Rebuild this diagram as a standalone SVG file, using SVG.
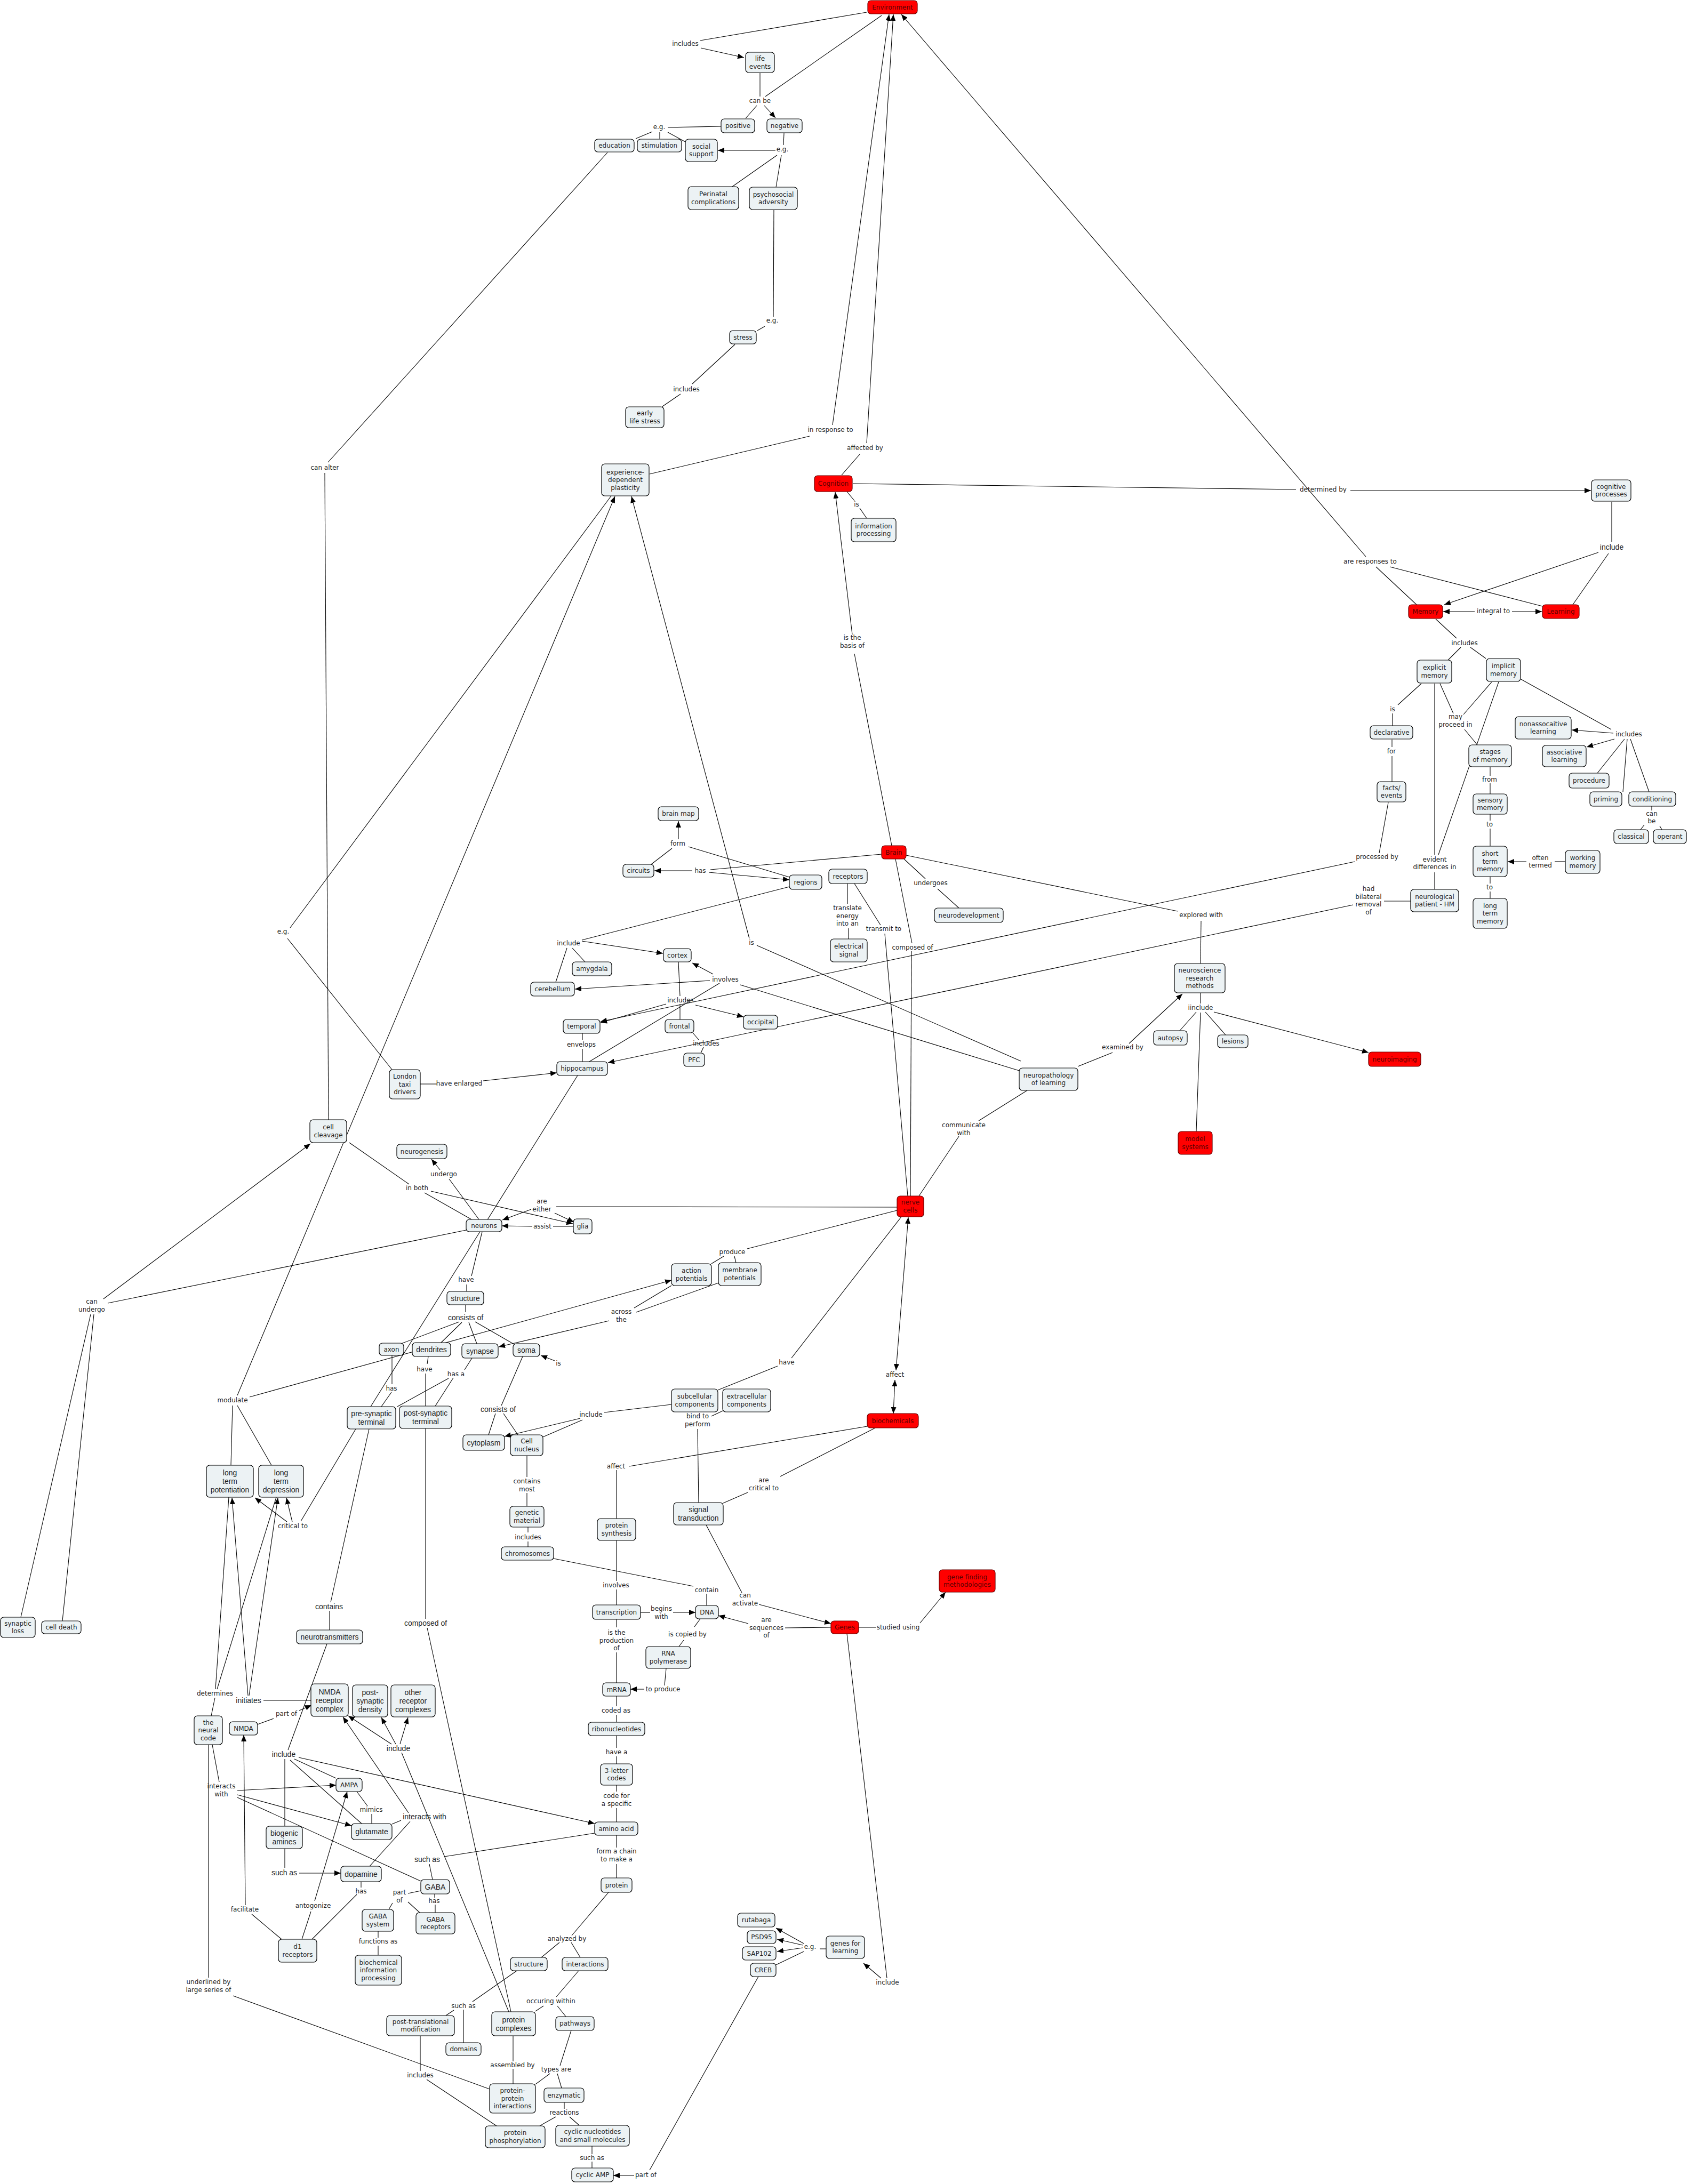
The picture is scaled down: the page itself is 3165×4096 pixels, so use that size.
<svg xmlns="http://www.w3.org/2000/svg" width="3165" height="4096" viewBox="0 0 3165 4096">
<style>
.n rect{fill:#ecf2f4;stroke:#000;stroke-width:1.2}
.r rect{fill:#ff0000;stroke:#6a0000;stroke-width:1.2}
text{font-family:"DejaVu Sans",Verdana,sans-serif;font-size:12px;fill:#1e1e1e;text-anchor:middle}
text.a{font-family:"Liberation Sans",Arial,sans-serif;font-size:14px}
.r text{fill:#5a0000}
#connectors line{stroke:#000;stroke-width:1.1;fill:none}
#connectors line.e{marker-end:url(#ah)}
#connectors line.b{marker-end:url(#ah);marker-start:url(#ahs)}
</style>
<defs>
<marker id="ah" viewBox="0 0 12 10" refX="12" refY="5" markerWidth="12" markerHeight="10" markerUnits="userSpaceOnUse" orient="auto"><path d="M0,0 L12,5 L0,10 z" fill="#000"/></marker>
<marker id="ahs" viewBox="0 0 12 10" refX="12" refY="5" markerWidth="12" markerHeight="10" markerUnits="userSpaceOnUse" orient="auto-start-reverse"><path d="M0,0 L12,5 L0,10 z" fill="#000"/></marker>
</defs>
<rect width="3165" height="4096" fill="#fff"/>
<g id="connectors">
<line x1="1625" y1="23" x2="1313" y2="76"/>
<line class="e" x1="1314" y1="90" x2="1395" y2="108"/>
<line x1="1653" y1="29" x2="1435" y2="181"/>
<line x1="1425" y1="137" x2="1425" y2="181"/>
<line x1="1419" y1="198" x2="1398" y2="222"/>
<line class="e" x1="1433" y1="198" x2="1454" y2="221"/>
<line x1="1352" y1="237" x2="1252" y2="239"/>
<line x1="1223" y1="247" x2="1192" y2="260"/>
<line x1="1237" y1="248" x2="1237" y2="260"/>
<line x1="1252" y1="248" x2="1285" y2="266"/>
<line x1="1470" y1="250" x2="1469" y2="272"/>
<line class="e" x1="1454" y1="282" x2="1346" y2="282"/>
<line x1="1457" y1="291" x2="1373" y2="350"/>
<line x1="1465" y1="291" x2="1455" y2="351"/>
<line x1="1451" y1="394" x2="1450" y2="594"/>
<line x1="1434" y1="612" x2="1420" y2="620"/>
<line x1="1378" y1="646" x2="1298" y2="720"/>
<line x1="1276" y1="739" x2="1241" y2="763"/>
<line x1="1139" y1="286" x2="615" y2="867"/>
<line x1="609" y1="887" x2="616" y2="2100"/>
<line x1="1218" y1="889" x2="1518" y2="818"/>
<line class="e" x1="1561" y1="797" x2="1667" y2="27"/>
<line x1="1578" y1="891" x2="1612" y2="852"/>
<line class="e" x1="1625" y1="831" x2="1675" y2="27"/>
<line class="e" x1="2561" y1="1044" x2="1690" y2="27"/>
<line x1="2580" y1="1063" x2="2656" y2="1134"/>
<line x1="2606" y1="1063" x2="2892" y2="1137"/>
<line x1="1599" y1="907" x2="2430" y2="918"/>
<line class="e" x1="2532" y1="920" x2="2983" y2="920"/>
<line x1="3022" y1="941" x2="3022" y2="1016"/>
<line class="e" x1="2997" y1="1036" x2="2708" y2="1134"/>
<line x1="3016" y1="1038" x2="2949" y2="1134"/>
<line class="e" x1="2765" y1="1147" x2="2706" y2="1147"/>
<line class="e" x1="2835" y1="1147" x2="2891" y2="1147"/>
<line x1="2692" y1="1161" x2="2731" y2="1197"/>
<line x1="2739" y1="1214" x2="2715" y2="1238"/>
<line x1="2757" y1="1214" x2="2786" y2="1235"/>
<line x1="2665" y1="1282" x2="2621" y2="1322"/>
<line x1="2611" y1="1338" x2="2611" y2="1361"/>
<line x1="2610" y1="1387" x2="2610" y2="1401"/>
<line x1="2610" y1="1418" x2="2610" y2="1466"/>
<line x1="2603" y1="1505" x2="2586" y2="1600"/>
<line class="e" x1="2540" y1="1616" x2="1126" y2="1916"/>
<line x1="2700" y1="1282" x2="2725" y2="1338"/>
<line x1="2797" y1="1279" x2="2744" y2="1340"/>
<line x1="2746" y1="1368" x2="2770" y2="1397"/>
<line x1="2810" y1="1279" x2="2697" y2="1603"/>
<line x1="2690" y1="1282" x2="2690" y2="1603"/>
<line x1="2690" y1="1636" x2="2690" y2="1668"/>
<line x1="2852" y1="1274" x2="3021" y2="1368"/>
<line class="e" x1="3025" y1="1375" x2="2947" y2="1369"/>
<line class="e" x1="3027" y1="1386" x2="2975" y2="1401"/>
<line x1="3046" y1="1386" x2="2995" y2="1450"/>
<line x1="3051" y1="1386" x2="3043" y2="1485"/>
<line x1="3057" y1="1386" x2="3092" y2="1485"/>
<line x1="3097" y1="1512" x2="3097" y2="1520"/>
<line x1="3083" y1="1547" x2="3076" y2="1556"/>
<line x1="3112" y1="1549" x2="3116" y2="1556"/>
<line x1="2794" y1="1438" x2="2794" y2="1455"/>
<line x1="2794" y1="1469" x2="2794" y2="1489"/>
<line x1="2794" y1="1527" x2="2794" y2="1539"/>
<line x1="2794" y1="1554" x2="2794" y2="1587"/>
<line x1="2794" y1="1644" x2="2794" y2="1657"/>
<line x1="2794" y1="1672" x2="2794" y2="1685"/>
<line x1="2935" y1="1616" x2="2915" y2="1616"/>
<line class="e" x1="2862" y1="1616" x2="2827" y2="1616"/>
<line x1="2645" y1="1690" x2="2595" y2="1690"/>
<line class="e" x1="2537" y1="1697" x2="1140" y2="1993"/>
<line x1="1699" y1="1604" x2="2208" y2="1709"/>
<line x1="2252" y1="1727" x2="2251" y2="1807"/>
<line x1="1653" y1="1602" x2="1332" y2="1631"/>
<line class="e" x1="1298" y1="1633" x2="1227" y2="1633"/>
<line class="e" x1="1329" y1="1636" x2="1480" y2="1650"/>
<line x1="1221" y1="1621" x2="1260" y2="1591"/>
<line class="e" x1="1272" y1="1574" x2="1272" y2="1540"/>
<line x1="1480" y1="1645" x2="1291" y2="1588"/>
<line x1="1695" y1="1611" x2="1735" y2="1648"/>
<line x1="1758" y1="1667" x2="1798" y2="1703"/>
<line x1="1672" y1="1586" x2="1602" y2="1226"/>
<line class="e" x1="1598" y1="1190" x2="1566" y2="923"/>
<line x1="1588" y1="922" x2="1602" y2="939"/>
<line x1="1612" y1="953" x2="1625" y2="972"/>
<line x1="1679" y1="1611" x2="1710" y2="1769"/>
<line x1="1709" y1="1784" x2="1707" y2="2243"/>
<line x1="1589" y1="1657" x2="1589" y2="1695"/>
<line x1="1591" y1="1741" x2="1591" y2="1761"/>
<line x1="1602" y1="1657" x2="1651" y2="1735"/>
<line x1="1659" y1="1751" x2="1702" y2="2243"/>
<line x1="1926" y1="2045" x2="1835" y2="2102"/>
<line x1="1798" y1="2131" x2="1723" y2="2243"/>
<line x1="2021" y1="2000" x2="2086" y2="1974"/>
<line class="e" x1="2117" y1="1957" x2="2217" y2="1864"/>
<line x1="2251" y1="1862" x2="2251" y2="1882"/>
<line x1="2243" y1="1898" x2="2212" y2="1933"/>
<line x1="2260" y1="1898" x2="2298" y2="1941"/>
<line class="e" x1="2276" y1="1898" x2="2566" y2="1974"/>
<line x1="2251" y1="1899" x2="2243" y2="2122"/>
<line x1="1914" y1="1990" x2="1419" y2="1773"/>
<line class="e" x1="1405" y1="1760" x2="1184" y2="931"/>
<line x1="1911" y1="2008" x2="1388" y2="1847"/>
<line class="e" x1="1337" y1="1827" x2="1298" y2="1806"/>
<line class="e" x1="1331" y1="1839" x2="1078" y2="1855"/>
<line x1="1349" y1="1844" x2="1105" y2="1991"/>
<line x1="1480" y1="1663" x2="1091" y2="1763"/>
<line class="e" x1="1091" y1="1765" x2="1243" y2="1788"/>
<line x1="1063" y1="1778" x2="1042" y2="1842"/>
<line x1="1073" y1="1778" x2="1097" y2="1804"/>
<line x1="1272" y1="1804" x2="1275" y2="1868"/>
<line class="e" x1="1249" y1="1883" x2="1126" y2="1918"/>
<line x1="1275" y1="1883" x2="1275" y2="1912"/>
<line class="e" x1="1304" y1="1885" x2="1394" y2="1907"/>
<line x1="1092" y1="1938" x2="1092" y2="1950"/>
<line x1="1092" y1="1967" x2="1092" y2="1991"/>
<line x1="1299" y1="1937" x2="1310" y2="1950"/>
<line x1="1319" y1="1964" x2="1314" y2="1975"/>
<line x1="788" y1="2033" x2="819" y2="2033"/>
<line class="e" x1="906" y1="2027" x2="1044" y2="2012"/>
<line x1="539" y1="1760" x2="735" y2="2006"/>
<line x1="544" y1="1740" x2="1146" y2="930"/>
<line class="e" x1="445" y1="2617" x2="1153" y2="931"/>
<line x1="1083" y1="2017" x2="695" y2="2638"/>
<line class="e" x1="194" y1="2436" x2="582" y2="2145"/>
<line x1="202" y1="2444" x2="874" y2="2307"/>
<line x1="170" y1="2465" x2="39" y2="3033"/>
<line x1="176" y1="2465" x2="117" y2="3040"/>
<line x1="655" y1="2143" x2="767" y2="2221"/>
<line x1="796" y1="2237" x2="884" y2="2287"/>
<line class="e" x1="808" y1="2234" x2="1074" y2="2295"/>
<line x1="1682" y1="2264" x2="1043" y2="2263"/>
<line class="e" x1="996" y1="2268" x2="942" y2="2288"/>
<line class="e" x1="1040" y1="2275" x2="1076" y2="2292"/>
<line x1="1075" y1="2300" x2="1037" y2="2300"/>
<line class="e" x1="998" y1="2300" x2="941" y2="2299"/>
<line x1="898" y1="2287" x2="842" y2="2211"/>
<line class="e" x1="825" y1="2194" x2="809" y2="2174"/>
<line x1="904" y1="2310" x2="884" y2="2393"/>
<line x1="875" y1="2409" x2="875" y2="2422"/>
<line x1="873" y1="2447" x2="873" y2="2461"/>
<line x1="861" y1="2479" x2="752" y2="2520"/>
<line x1="866" y1="2480" x2="827" y2="2518"/>
<line x1="879" y1="2480" x2="894" y2="2520"/>
<line x1="891" y1="2479" x2="962" y2="2520"/>
<line x1="1682" y1="2270" x2="1401" y2="2342"/>
<line x1="1357" y1="2356" x2="1334" y2="2370"/>
<line x1="1377" y1="2356" x2="1380" y2="2368"/>
<line x1="1259" y1="2411" x2="1189" y2="2453"/>
<line x1="1347" y1="2406" x2="1193" y2="2461"/>
<line class="e" x1="1142" y1="2477" x2="935" y2="2526"/>
<line class="e" x1="468" y1="2620" x2="1259" y2="2401"/>
<line x1="803" y1="2544" x2="801" y2="2558"/>
<line x1="798" y1="2576" x2="798" y2="2637"/>
<line x1="735" y1="2542" x2="735" y2="2596"/>
<line x1="734" y1="2611" x2="715" y2="2638"/>
<line x1="885" y1="2547" x2="871" y2="2569"/>
<line x1="841" y1="2585" x2="745" y2="2638"/>
<line x1="850" y1="2584" x2="816" y2="2637"/>
<line x1="980" y1="2544" x2="940" y2="2636"/>
<line x1="929" y1="2651" x2="916" y2="2691"/>
<line x1="944" y1="2651" x2="971" y2="2691"/>
<line class="e" x1="1040" y1="2552" x2="1014" y2="2542"/>
<line x1="1259" y1="2634" x2="1133" y2="2649"/>
<line class="e" x1="1088" y1="2660" x2="946" y2="2694"/>
<line x1="1092" y1="2663" x2="1018" y2="2695"/>
<line x1="1690" y1="2282" x2="1484" y2="2547"/>
<line x1="1458" y1="2562" x2="1346" y2="2607"/>
<line x1="1355" y1="2646" x2="1334" y2="2656"/>
<line x1="1308" y1="2680" x2="1310" y2="2818"/>
<line class="b" x1="1680" y1="2570" x2="1703" y2="2283"/>
<line class="b" x1="1678" y1="2588" x2="1675" y2="2651"/>
<line x1="1626" y1="2675" x2="1180" y2="2750"/>
<line x1="1156" y1="2757" x2="1156" y2="2848"/>
<line x1="1641" y1="2678" x2="1463" y2="2769"/>
<line x1="1402" y1="2799" x2="1356" y2="2819"/>
<line x1="988" y1="2730" x2="988" y2="2770"/>
<line x1="988" y1="2800" x2="988" y2="2825"/>
<line x1="990" y1="2864" x2="990" y2="2874"/>
<line x1="990" y1="2891" x2="990" y2="2901"/>
<line x1="1038" y1="2923" x2="1300" y2="2975"/>
<line x1="1325" y1="2989" x2="1325" y2="3011"/>
<line x1="1156" y1="2889" x2="1156" y2="2965"/>
<line x1="1156" y1="2981" x2="1156" y2="3010"/>
<line x1="1324" y1="2860" x2="1391" y2="2987"/>
<line class="e" x1="1423" y1="3009" x2="1558" y2="3045"/>
<line x1="1201" y1="3024" x2="1219" y2="3024"/>
<line class="e" x1="1262" y1="3024" x2="1304" y2="3024"/>
<line x1="1558" y1="3052" x2="1472" y2="3053"/>
<line class="e" x1="1403" y1="3045" x2="1347" y2="3030"/>
<line x1="1313" y1="3036" x2="1302" y2="3051"/>
<line x1="1282" y1="3076" x2="1273" y2="3088"/>
<line x1="1249" y1="3129" x2="1246" y2="3161"/>
<line class="e" x1="1208" y1="3168" x2="1182" y2="3168"/>
<line x1="1156" y1="3037" x2="1156" y2="3052"/>
<line x1="1156" y1="3099" x2="1156" y2="3156"/>
<line x1="1156" y1="3181" x2="1156" y2="3200"/>
<line x1="1156" y1="3216" x2="1156" y2="3230"/>
<line x1="1156" y1="3255" x2="1156" y2="3278"/>
<line x1="1156" y1="3294" x2="1156" y2="3308"/>
<line x1="1156" y1="3348" x2="1156" y2="3360"/>
<line x1="1156" y1="3391" x2="1156" y2="3417"/>
<line x1="1156" y1="3442" x2="1156" y2="3465"/>
<line x1="1156" y1="3496" x2="1156" y2="3522"/>
<line class="e" x1="560" y1="3296" x2="1115" y2="3420"/>
<line x1="1115" y1="3438" x2="833" y2="3482"/>
<line x1="805" y1="3496" x2="811" y2="3525"/>
<line x1="1610" y1="3052" x2="1643" y2="3052"/>
<line class="e" x1="1725" y1="3044" x2="1773" y2="2986"/>
<line x1="1588" y1="3064" x2="1663" y2="3710"/>
<line class="e" x1="1652" y1="3710" x2="1619" y2="3682"/>
<line x1="1549" y1="3655" x2="1537" y2="3655"/>
<line class="e" x1="1507" y1="3645" x2="1455" y2="3616"/>
<line class="e" x1="1505" y1="3648" x2="1457" y2="3637"/>
<line class="e" x1="1505" y1="3653" x2="1457" y2="3660"/>
<line x1="1507" y1="3660" x2="1455" y2="3685"/>
<line x1="1422" y1="3707" x2="1218" y2="4070"/>
<line class="e" x1="1189" y1="4080" x2="1150" y2="4080"/>
<line x1="1141" y1="3549" x2="1072" y2="3630"/>
<line x1="1049" y1="3643" x2="1015" y2="3671"/>
<line x1="1071" y1="3643" x2="1088" y2="3671"/>
<line x1="969" y1="3696" x2="886" y2="3754"/>
<line x1="851" y1="3770" x2="836" y2="3780"/>
<line x1="869" y1="3769" x2="869" y2="3831"/>
<line x1="1085" y1="3696" x2="1043" y2="3745"/>
<line x1="1019" y1="3762" x2="1004" y2="3772"/>
<line x1="1045" y1="3762" x2="1061" y2="3782"/>
<line x1="962" y1="3818" x2="962" y2="3866"/>
<line x1="962" y1="3880" x2="962" y2="3908"/>
<line x1="1071" y1="3808" x2="1050" y2="3874"/>
<line x1="1031" y1="3889" x2="1004" y2="3909"/>
<line x1="1045" y1="3889" x2="1053" y2="3916"/>
<line x1="1058" y1="3943" x2="1058" y2="3955"/>
<line x1="1042" y1="3970" x2="1012" y2="3987"/>
<line x1="1068" y1="3970" x2="1086" y2="3986"/>
<line x1="1110" y1="4025" x2="1110" y2="4040"/>
<line x1="1110" y1="4054" x2="1110" y2="4066"/>
<line x1="788" y1="3818" x2="788" y2="3884"/>
<line x1="800" y1="3900" x2="931" y2="3987"/>
<line x1="437" y1="3743" x2="918" y2="3918"/>
<line x1="391" y1="3272" x2="391" y2="3709"/>
<line x1="396" y1="3218" x2="403" y2="3184"/>
<line x1="404" y1="3168" x2="429" y2="2808"/>
<line x1="407" y1="3168" x2="518" y2="2808"/>
<line class="e" x1="465" y1="3180" x2="435" y2="2809"/>
<line class="e" x1="467" y1="3180" x2="521" y2="2809"/>
<line class="e" x1="538" y1="2854" x2="478" y2="2809"/>
<line class="e" x1="548" y1="2854" x2="537" y2="2809"/>
<line x1="667" y1="2680" x2="564" y2="2853"/>
<line x1="494" y1="3189" x2="583" y2="3189"/>
<line x1="436" y1="2636" x2="433" y2="2748"/>
<line x1="445" y1="2636" x2="509" y2="2748"/>
<line x1="692" y1="2680" x2="620" y2="3005"/>
<line x1="618" y1="3021" x2="618" y2="3057"/>
<line x1="798" y1="2679" x2="798" y2="3036"/>
<line x1="801" y1="3053" x2="958" y2="3773"/>
<line x1="613" y1="3083" x2="540" y2="3282"/>
<line x1="534" y1="3299" x2="534" y2="3425"/>
<line x1="552" y1="3299" x2="630" y2="3335"/>
<line x1="544" y1="3301" x2="678" y2="3420"/>
<line class="e" x1="734" y1="3271" x2="653" y2="3218"/>
<line class="e" x1="742" y1="3271" x2="715" y2="3221"/>
<line class="e" x1="750" y1="3271" x2="765" y2="3221"/>
<line x1="753" y1="3287" x2="954" y2="3773"/>
<line class="e" x1="766" y1="3400" x2="643" y2="3220"/>
<line x1="735" y1="3421" x2="752" y2="3414"/>
<line x1="769" y1="3416" x2="693" y2="3500"/>
<line x1="398" y1="3272" x2="411" y2="3342"/>
<line class="e" x1="445" y1="3358" x2="630" y2="3348"/>
<line class="e" x1="445" y1="3366" x2="659" y2="3424"/>
<line x1="445" y1="3371" x2="789" y2="3528"/>
<line x1="669" y1="3360" x2="689" y2="3387"/>
<line x1="697" y1="3402" x2="697" y2="3420"/>
<line x1="534" y1="3467" x2="534" y2="3503"/>
<line class="e" x1="561" y1="3513" x2="639" y2="3513"/>
<line x1="677" y1="3529" x2="677" y2="3540"/>
<line x1="669" y1="3553" x2="585" y2="3637"/>
<line x1="789" y1="3546" x2="765" y2="3551"/>
<line x1="736" y1="3569" x2="729" y2="3581"/>
<line x1="765" y1="3567" x2="787" y2="3587"/>
<line x1="815" y1="3552" x2="815" y2="3559"/>
<line x1="816" y1="3572" x2="816" y2="3587"/>
<line x1="709" y1="3622" x2="709" y2="3634"/>
<line x1="709" y1="3649" x2="709" y2="3667"/>
<line x1="528" y1="3637" x2="472" y2="3590"/>
<line class="e" x1="460" y1="3573" x2="457" y2="3254"/>
<line x1="566" y1="3637" x2="583" y2="3585"/>
<line class="e" x1="590" y1="3565" x2="651" y2="3360"/>
<line x1="483" y1="3234" x2="513" y2="3223"/>
<line class="e" x1="561" y1="3208" x2="584" y2="3198"/>
</g>
<g id="labels">
<text x="1285" y="86">includes</text>
<text x="1425" y="193">can be</text>
<text x="1236" y="242">e.g.</text>
<text x="1467" y="284">e.g.</text>
<text x="1448" y="605">e.g.</text>
<text x="1287" y="734">includes</text>
<text x="1557" y="810">in response to</text>
<text x="1622" y="844">affected by</text>
<text x="609" y="881">can alter</text>
<text x="1606" y="950">is</text>
<text x="2481" y="922">determined by</text>
<text class="a" x="3022" y="1031">include</text>
<text x="2569" y="1057">are responses to</text>
<text x="2800" y="1150">integral to</text>
<text x="1598"><tspan x="1598" y="1200">is the</tspan><tspan x="1598" y="1215">basis of</tspan></text>
<text x="2746" y="1210">includes</text>
<text x="2611" y="1334">is</text>
<text x="2729"><tspan x="2729" y="1348">may</tspan><tspan x="2729" y="1363">proceed in</tspan></text>
<text x="3054" y="1381">includes</text>
<text x="2609" y="1413">for</text>
<text x="2793" y="1466">from</text>
<text x="3097"><tspan x="3097" y="1530">can</tspan><tspan x="3097" y="1544">be</tspan></text>
<text x="2793" y="1550">to</text>
<text x="2582" y="1611">processed by</text>
<text x="2888"><tspan x="2888" y="1613">often</tspan><tspan x="2888" y="1627">termed</tspan></text>
<text x="2690"><tspan x="2690" y="1616">evident</tspan><tspan x="2690" y="1630">differences in</tspan></text>
<text x="2793" y="1668">to</text>
<text x="2566"><tspan x="2566" y="1671">had</tspan><tspan x="2566" y="1685.5">bilateral</tspan><tspan x="2566" y="1700">removal</tspan><tspan x="2566" y="1714.5">of</tspan></text>
<text x="2252" y="1720">explored with</text>
<text x="1271" y="1586">form</text>
<text x="1313" y="1637">has</text>
<text x="1745" y="1660">undergoes</text>
<text x="1589"><tspan x="1589" y="1707">translate</tspan><tspan x="1589" y="1721.5">energy</tspan><tspan x="1589" y="1736">into an</tspan></text>
<text x="1657" y="1746">transmit to</text>
<text x="531" y="1751">e.g.</text>
<text x="1066" y="1773">include</text>
<text x="1409" y="1772">is</text>
<text x="1711" y="1781">composed of</text>
<text x="1360" y="1841">involves</text>
<text x="1276" y="1880">includes</text>
<text x="2251" y="1894">iinclude</text>
<text x="1324" y="1961">includes</text>
<text x="1090" y="1963">envelops</text>
<text x="2105" y="1968">examined by</text>
<text x="861" y="2036">have enlarged</text>
<text x="1807"><tspan x="1807" y="2114">communicate</tspan><tspan x="1807" y="2128.5">with</tspan></text>
<text x="832" y="2206">undergo</text>
<text x="782" y="2232">in both</text>
<text x="1016"><tspan x="1016" y="2257">are</tspan><tspan x="1016" y="2272">either</tspan></text>
<text x="1017" y="2304">assist</text>
<text x="1373" y="2352">produce</text>
<text x="874" y="2404">have</text>
<text x="172"><tspan x="172" y="2445">can</tspan><tspan x="172" y="2459.5">undergo</tspan></text>
<text x="1165"><tspan x="1165" y="2464">across</tspan><tspan x="1165" y="2478.5">the</tspan></text>
<text class="a" x="873" y="2476">consists of</text>
<text x="1047" y="2561">is</text>
<text x="1475" y="2559">have</text>
<text x="796" y="2572">have</text>
<text x="855" y="2581">has a</text>
<text x="1678" y="2582">affect</text>
<text x="734" y="2608">has</text>
<text x="436" y="2630">modulate</text>
<text class="a" x="934" y="2648">consists of</text>
<text x="1108" y="2657">include</text>
<text x="1308"><tspan x="1308" y="2660">bind to</tspan><tspan x="1308" y="2674.5">perform</tspan></text>
<text x="1155" y="2754">affect</text>
<text x="1432"><tspan x="1432" y="2780">are</tspan><tspan x="1432" y="2794.5">critical to</tspan></text>
<text x="988"><tspan x="988" y="2782">contains</tspan><tspan x="988" y="2796.5">most</tspan></text>
<text x="549" y="2866">critical to</text>
<text x="990" y="2887">includes</text>
<text x="1155" y="2977">involves</text>
<text x="1325" y="2986">contain</text>
<text x="1397"><tspan x="1397" y="2996">can</tspan><tspan x="1397" y="3010.5">activate</tspan></text>
<text class="a" x="617" y="3018">contains</text>
<text x="1240"><tspan x="1240" y="3021">begins</tspan><tspan x="1240" y="3035.5">with</tspan></text>
<text class="a" x="798" y="3049">composed of</text>
<text x="1684" y="3056">studied using</text>
<text x="1437"><tspan x="1437" y="3042">are</tspan><tspan x="1437" y="3056.5">sequences</tspan><tspan x="1437" y="3071">of</tspan></text>
<text x="1156"><tspan x="1156" y="3066">is the</tspan><tspan x="1156" y="3080.5">production</tspan><tspan x="1156" y="3095">of</tspan></text>
<text x="1289" y="3069">is copied by</text>
<text x="1243" y="3172">to produce</text>
<text x="403" y="3180">determines</text>
<text class="a" x="466" y="3194">initiates</text>
<text x="1155" y="3212">coded as</text>
<text x="537" y="3218">part of</text>
<text class="a" x="747" y="3284">include</text>
<text x="1156" y="3290">have a</text>
<text class="a" x="532" y="3295">include</text>
<text x="415"><tspan x="415" y="3354">interacts</tspan><tspan x="415" y="3368.5">with</tspan></text>
<text x="1156"><tspan x="1156" y="3372">code for</tspan><tspan x="1156" y="3386.5">a specific</tspan></text>
<text x="696" y="3398">mimics</text>
<text class="a" x="796" y="3412">interacts with</text>
<text x="1156"><tspan x="1156" y="3476">form a chain</tspan><tspan x="1156" y="3490.5">to make a</tspan></text>
<text class="a" x="801" y="3492">such as</text>
<text class="a" x="533" y="3517">such as</text>
<text x="677" y="3551">has</text>
<text x="749"><tspan x="749" y="3553">part</tspan><tspan x="749" y="3567.5">of</tspan></text>
<text x="814" y="3569">has</text>
<text x="459" y="3585">facilitate</text>
<text x="587" y="3578">antogonize</text>
<text x="1063" y="3640">analyzed by</text>
<text x="709" y="3645">functions as</text>
<text x="1519" y="3655">e.g.</text>
<text x="1664" y="3722">include</text>
<text x="391"><tspan x="391" y="3721">underlined by</tspan><tspan x="391" y="3735.5">large series of</tspan></text>
<text x="1033" y="3757">occuring within</text>
<text x="869" y="3766">such as</text>
<text x="961" y="3877">assembled by</text>
<text x="1043" y="3885">types are</text>
<text x="788" y="3896">includes</text>
<text x="1058" y="3966">reactions</text>
<text x="1110" y="4051">such as</text>
<text x="1211" y="4083">part of</text>
</g>
<g id="n_env" class="r"><rect x="1627" y="1" width="93" height="25" rx="6"/><text x="1673.5" y="17.5">Environment</text></g>
<g id="n_life" class="n"><rect x="1398" y="98" width="54" height="38" rx="6"/><text x="1425"><tspan x="1425" y="114">life</tspan><tspan x="1425" y="128.5">events</tspan></text></g>
<g id="n_pos" class="n"><rect x="1352" y="223" width="63" height="26" rx="6"/><text x="1383.5" y="240">positive</text></g>
<g id="n_neg" class="n"><rect x="1438" y="223" width="66" height="26" rx="6"/><text x="1471" y="240">negative</text></g>
<g id="n_edu" class="n"><rect x="1115" y="261" width="74" height="24" rx="6"/><text x="1152" y="277">education</text></g>
<g id="n_stim" class="n"><rect x="1195" y="261" width="83" height="24" rx="6"/><text x="1236.5" y="277">stimulation</text></g>
<g id="n_soc" class="n"><rect x="1285" y="261" width="60" height="42" rx="6"/><text x="1315"><tspan x="1315" y="278.75">social</tspan><tspan x="1315" y="293.25">support</tspan></text></g>
<g id="n_peri" class="n"><rect x="1290" y="350" width="95" height="43" rx="6"/><text x="1337.5"><tspan x="1337.5" y="368.25">Perinatal</tspan><tspan x="1337.5" y="382.75">complications</tspan></text></g>
<g id="n_psy" class="n"><rect x="1405" y="351" width="90" height="42" rx="6"/><text x="1450"><tspan x="1450" y="368.75">psychosocial</tspan><tspan x="1450" y="383.25">adversity</tspan></text></g>
<g id="n_stress" class="n"><rect x="1368" y="620" width="50" height="25" rx="6"/><text x="1393" y="636.5">stress</text></g>
<g id="n_els" class="n"><rect x="1173" y="763" width="72" height="39" rx="6"/><text x="1209"><tspan x="1209" y="779.25">early</tspan><tspan x="1209" y="793.75">life stress</tspan></text></g>
<g id="n_edp" class="n"><rect x="1128" y="870" width="89" height="60" rx="6"/><text x="1172.5"><tspan x="1172.5" y="889.5">experience-</tspan><tspan x="1172.5" y="904">dependent</tspan><tspan x="1172.5" y="918.5">plasticity</tspan></text></g>
<g id="n_cog" class="r"><rect x="1527" y="892" width="71" height="30" rx="6"/><text x="1562.5" y="911">Cognition</text></g>
<g id="n_info" class="n"><rect x="1596" y="972" width="84" height="44" rx="6"/><text x="1638"><tspan x="1638" y="990.75">information</tspan><tspan x="1638" y="1005.25">processing</tspan></text></g>
<g id="n_cogp" class="n"><rect x="2984" y="900" width="74" height="40" rx="6"/><text x="3021"><tspan x="3021" y="916.75">cognitive</tspan><tspan x="3021" y="931.25">processes</tspan></text></g>
<g id="n_mem" class="r"><rect x="2641" y="1134" width="64" height="26" rx="6"/><text x="2673" y="1151">Memory</text></g>
<g id="n_learn" class="r"><rect x="2892" y="1134" width="69" height="26" rx="6"/><text x="2926.5" y="1151">Learning</text></g>
<g id="n_expl" class="n"><rect x="2657" y="1238" width="65" height="43" rx="6"/><text x="2689.5"><tspan x="2689.5" y="1256.25">explicit</tspan><tspan x="2689.5" y="1270.75">memory</tspan></text></g>
<g id="n_impl" class="n"><rect x="2787" y="1235" width="64" height="43" rx="6"/><text x="2819"><tspan x="2819" y="1253.25">implicit</tspan><tspan x="2819" y="1267.75">memory</tspan></text></g>
<g id="n_decl" class="n"><rect x="2569" y="1361" width="80" height="25" rx="6"/><text x="2609" y="1377.5">declarative</text></g>
<g id="n_nonas" class="n"><rect x="2841" y="1344" width="105" height="42" rx="6"/><text x="2893.5"><tspan x="2893.5" y="1361.75">nonassocaitive</tspan><tspan x="2893.5" y="1376.25">learning</tspan></text></g>
<g id="n_assoc" class="n"><rect x="2892" y="1398" width="82" height="40" rx="6"/><text x="2933"><tspan x="2933" y="1414.75">associative</tspan><tspan x="2933" y="1429.25">learning</tspan></text></g>
<g id="n_stages" class="n"><rect x="2754" y="1397" width="80" height="41" rx="6"/><text x="2794"><tspan x="2794" y="1414.25">stages</tspan><tspan x="2794" y="1428.75">of memory</tspan></text></g>
<g id="n_facts" class="n"><rect x="2582" y="1466" width="54" height="38" rx="6"/><text x="2609"><tspan x="2609" y="1481.75">facts/</tspan><tspan x="2609" y="1496.25">events</tspan></text></g>
<g id="n_proc" class="n"><rect x="2942" y="1450" width="75" height="28" rx="6"/><text x="2979.5" y="1468">procedure</text></g>
<g id="n_prim" class="n"><rect x="2981" y="1485" width="60" height="27" rx="6"/><text x="3011" y="1502.5">priming</text></g>
<g id="n_cond" class="n"><rect x="3054" y="1485" width="88" height="27" rx="6"/><text x="3098" y="1502.5">conditioning</text></g>
<g id="n_sens" class="n"><rect x="2762" y="1489" width="64" height="38" rx="6"/><text x="2794"><tspan x="2794" y="1504.75">sensory</tspan><tspan x="2794" y="1519.25">memory</tspan></text></g>
<g id="n_class" class="n"><rect x="3026" y="1556" width="65" height="26" rx="6"/><text x="3058.5" y="1573">classical</text></g>
<g id="n_oper" class="n"><rect x="3100" y="1556" width="62" height="26" rx="6"/><text x="3131" y="1573">operant</text></g>
<g id="n_stm" class="n"><rect x="2762" y="1587" width="64" height="57" rx="6"/><text x="2794"><tspan x="2794" y="1605">short</tspan><tspan x="2794" y="1619.5">term</tspan><tspan x="2794" y="1634">memory</tspan></text></g>
<g id="n_work" class="n"><rect x="2935" y="1595" width="65" height="43" rx="6"/><text x="2967.5"><tspan x="2967.5" y="1613.25">working</tspan><tspan x="2967.5" y="1627.75">memory</tspan></text></g>
<g id="n_hm" class="n"><rect x="2645" y="1668" width="90" height="42" rx="6"/><text x="2690"><tspan x="2690" y="1685.75">neurological</tspan><tspan x="2690" y="1700.25">patient - HM</tspan></text></g>
<g id="n_ltm" class="n"><rect x="2762" y="1685" width="64" height="56" rx="6"/><text x="2794"><tspan x="2794" y="1702.5">long</tspan><tspan x="2794" y="1717">term</tspan><tspan x="2794" y="1731.5">memory</tspan></text></g>
<g id="n_bmap" class="n"><rect x="1234" y="1513" width="76" height="26" rx="6"/><text x="1272" y="1530">brain map</text></g>
<g id="n_circ" class="n"><rect x="1168" y="1621" width="58" height="24" rx="6"/><text x="1197" y="1637">circuits</text></g>
<g id="n_brain" class="r"><rect x="1653" y="1586" width="46" height="25" rx="6"/><text x="1676" y="1602.5">Brain</text></g>
<g id="n_reg" class="n"><rect x="1480" y="1641" width="61" height="27" rx="6"/><text x="1510.5" y="1658.5">regions</text></g>
<g id="n_rec" class="n"><rect x="1554" y="1630" width="72" height="27" rx="6"/><text x="1590" y="1647.5">receptors</text></g>
<g id="n_ndev" class="n"><rect x="1752" y="1703" width="129" height="27" rx="6"/><text x="1816.5" y="1720.5">neurodevelopment</text></g>
<g id="n_elec" class="n"><rect x="1557" y="1761" width="69" height="43" rx="6"/><text x="1591.5"><tspan x="1591.5" y="1779.25">electrical</tspan><tspan x="1591.5" y="1793.75">signal</tspan></text></g>
<g id="n_cortex" class="n"><rect x="1244" y="1779" width="52" height="25" rx="6"/><text x="1270" y="1795.5">cortex</text></g>
<g id="n_amyg" class="n"><rect x="1073" y="1804" width="74" height="26" rx="6"/><text x="1110" y="1821">amygdala</text></g>
<g id="n_cereb" class="n"><rect x="995" y="1842" width="82" height="26" rx="6"/><text x="1036" y="1859">cerebellum</text></g>
<g id="n_temp" class="n"><rect x="1056" y="1912" width="69" height="26" rx="6"/><text x="1090.5" y="1929">temporal</text></g>
<g id="n_front" class="n"><rect x="1247" y="1912" width="54" height="25" rx="6"/><text x="1274" y="1928.5">frontal</text></g>
<g id="n_occ" class="n"><rect x="1394" y="1904" width="64" height="26" rx="6"/><text x="1426" y="1921">occipital</text></g>
<g id="n_pfc" class="n"><rect x="1282" y="1975" width="39" height="25" rx="6"/><text x="1301.5" y="1991.5">PFC</text></g>
<g id="n_hippo" class="n"><rect x="1044" y="1991" width="95" height="26" rx="6"/><text x="1091.5" y="2008">hippocampus</text></g>
<g id="n_london" class="n"><rect x="730" y="2006" width="58" height="55" rx="6"/><text x="759"><tspan x="759" y="2023">London</tspan><tspan x="759" y="2037.5">taxi</tspan><tspan x="759" y="2052">drivers</tspan></text></g>
<g id="n_neuropath" class="n"><rect x="1911" y="2003" width="110" height="42" rx="6"/><text x="1966"><tspan x="1966" y="2020.75">neuropathology</tspan><tspan x="1966" y="2035.25">of learning</tspan></text></g>
<g id="n_nrm" class="n"><rect x="2202" y="1807" width="95" height="55" rx="6"/><text x="2249.5"><tspan x="2249.5" y="1824">neuroscience</tspan><tspan x="2249.5" y="1838.5">research</tspan><tspan x="2249.5" y="1853">methods</tspan></text></g>
<g id="n_autop" class="n"><rect x="2163" y="1933" width="63" height="27" rx="6"/><text x="2194.5" y="1950.5">autopsy</text></g>
<g id="n_les" class="n"><rect x="2283" y="1941" width="57" height="24" rx="6"/><text x="2311.5" y="1957">lesions</text></g>
<g id="n_nimg" class="r"><rect x="2566" y="1973" width="98" height="27" rx="6"/><text x="2615" y="1990.5">neuroimaging</text></g>
<g id="n_model" class="r"><rect x="2209" y="2122" width="64" height="43" rx="6"/><text x="2241"><tspan x="2241" y="2140.25">model</tspan><tspan x="2241" y="2154.75">systems</tspan></text></g>
<g id="n_cleav" class="n"><rect x="581" y="2100" width="69" height="43" rx="6"/><text x="615.5"><tspan x="615.5" y="2118.25">cell</tspan><tspan x="615.5" y="2132.75">cleavage</tspan></text></g>
<g id="n_ngen" class="n"><rect x="744" y="2146" width="94" height="27" rx="6"/><text x="791" y="2163.5">neurogenesis</text></g>
<g id="n_neurons" class="n"><rect x="874" y="2287" width="67" height="23" rx="6"/><text x="907.5" y="2302.5">neurons</text></g>
<g id="n_glia" class="n"><rect x="1075" y="2286" width="35" height="28" rx="6"/><text x="1092.5" y="2304">glia</text></g>
<g id="n_nerve" class="r"><rect x="1682" y="2243" width="50" height="39" rx="6"/><text x="1707"><tspan x="1707" y="2259.25">nerve</tspan><tspan x="1707" y="2273.75">cells</tspan></text></g>
<g id="n_ap" class="n"><rect x="1259" y="2370" width="75" height="41" rx="6"/><text x="1296.5"><tspan x="1296.5" y="2387.25">action</tspan><tspan x="1296.5" y="2401.75">potentials</tspan></text></g>
<g id="n_mp" class="n"><rect x="1347" y="2368" width="80" height="43" rx="6"/><text x="1387"><tspan x="1387" y="2386.25">membrane</tspan><tspan x="1387" y="2400.75">potentials</tspan></text></g>
<g id="n_struct" class="n"><rect x="838" y="2422" width="69" height="25" rx="6"/><text class="a" x="872.5" y="2439.5">structure</text></g>
<g id="n_axon" class="n"><rect x="711" y="2519" width="46" height="23" rx="6"/><text x="734" y="2534.5">axon</text></g>
<g id="n_dend" class="n"><rect x="773" y="2518" width="72" height="26" rx="6"/><text class="a" x="809" y="2536">dendrites</text></g>
<g id="n_syn" class="n"><rect x="866" y="2520" width="68" height="27" rx="6"/><text class="a" x="900" y="2538.5">synapse</text></g>
<g id="n_soma" class="n"><rect x="962" y="2520" width="50" height="24" rx="6"/><text class="a" x="987" y="2537">soma</text></g>
<g id="n_subc" class="n"><rect x="1259" y="2605" width="87" height="43" rx="6"/><text x="1302.5"><tspan x="1302.5" y="2623.25">subcellular</tspan><tspan x="1302.5" y="2637.75">components</tspan></text></g>
<g id="n_extc" class="n"><rect x="1355" y="2605" width="90" height="43" rx="6"/><text x="1400"><tspan x="1400" y="2623.25">extracellular</tspan><tspan x="1400" y="2637.75">components</tspan></text></g>
<g id="n_presyn" class="n"><rect x="651" y="2638" width="91" height="42" rx="6"/><text class="a" x="696.5"><tspan x="696.5" y="2656">pre-synaptic</tspan><tspan x="696.5" y="2672">terminal</tspan></text></g>
<g id="n_postsyn" class="n"><rect x="749" y="2637" width="98" height="42" rx="6"/><text class="a" x="798"><tspan x="798" y="2655">post-synaptic</tspan><tspan x="798" y="2671">terminal</tspan></text></g>
<g id="n_biochem" class="r"><rect x="1626" y="2651" width="96" height="27" rx="6"/><text x="1674" y="2668.5">biochemicals</text></g>
<g id="n_cyto" class="n"><rect x="868" y="2691" width="78" height="29" rx="6"/><text class="a" x="907" y="2710.5">cytoplasm</text></g>
<g id="n_nucl" class="n"><rect x="957" y="2691" width="61" height="39" rx="6"/><text x="987.5"><tspan x="987.5" y="2707.25">Cell</tspan><tspan x="987.5" y="2721.75">nucleus</tspan></text></g>
<g id="n_genmat" class="n"><rect x="956" y="2825" width="64" height="39" rx="6"/><text x="988"><tspan x="988" y="2841.25">genetic</tspan><tspan x="988" y="2855.75">material</tspan></text></g>
<g id="n_sigt" class="n"><rect x="1263" y="2818" width="93" height="42" rx="6"/><text class="a" x="1309.5"><tspan x="1309.5" y="2836">signal</tspan><tspan x="1309.5" y="2852">transduction</tspan></text></g>
<g id="n_psynth" class="n"><rect x="1120" y="2848" width="72" height="41" rx="6"/><text x="1156"><tspan x="1156" y="2865.25">protein</tspan><tspan x="1156" y="2879.75">synthesis</tspan></text></g>
<g id="n_ltp" class="n"><rect x="387" y="2748" width="88" height="60" rx="6"/><text class="a" x="431"><tspan x="431" y="2767">long</tspan><tspan x="431" y="2783">term</tspan><tspan x="431" y="2799">potentiation</tspan></text></g>
<g id="n_ltd" class="n"><rect x="485" y="2748" width="84" height="60" rx="6"/><text class="a" x="527"><tspan x="527" y="2767">long</tspan><tspan x="527" y="2783">term</tspan><tspan x="527" y="2799">depression</tspan></text></g>
<g id="n_chrom" class="n"><rect x="940" y="2901" width="98" height="25" rx="6"/><text x="989" y="2917.5">chromosomes</text></g>
<g id="n_sloss" class="n"><rect x="1" y="3033" width="65" height="38" rx="6"/><text x="33.5"><tspan x="33.5" y="3048.75">synaptic</tspan><tspan x="33.5" y="3063.25">loss</tspan></text></g>
<g id="n_cdeath" class="n"><rect x="78" y="3040" width="74" height="24" rx="6"/><text x="115" y="3056">cell death</text></g>
<g id="n_ntrans" class="n"><rect x="556" y="3057" width="124" height="26" rx="6"/><text class="a" x="618" y="3075">neurotransmitters</text></g>
<g id="n_gfm" class="r"><rect x="1761" y="2944" width="105" height="42" rx="6"/><text x="1813.5"><tspan x="1813.5" y="2961.75">gene finding</tspan><tspan x="1813.5" y="2976.25">methodologies</tspan></text></g>
<g id="n_transc" class="n"><rect x="1111" y="3010" width="90" height="27" rx="6"/><text x="1156" y="3027.5">transcription</text></g>
<g id="n_dna" class="n"><rect x="1304" y="3011" width="43" height="25" rx="6"/><text x="1325.5" y="3027.5">DNA</text></g>
<g id="n_genes" class="r"><rect x="1558" y="3040" width="52" height="24" rx="6"/><text x="1584" y="3056">Genes</text></g>
<g id="n_rnap" class="n"><rect x="1211" y="3088" width="84" height="41" rx="6"/><text x="1253"><tspan x="1253" y="3105.25">RNA</tspan><tspan x="1253" y="3119.75">polymerase</tspan></text></g>
<g id="n_mrna" class="n"><rect x="1130" y="3156" width="52" height="25" rx="6"/><text x="1156" y="3172.5">mRNA</text></g>
<g id="n_nmdarc" class="n"><rect x="583" y="3158" width="70" height="61" rx="6"/><text class="a" x="618"><tspan x="618" y="3177.5">NMDA</tspan><tspan x="618" y="3193.5">receptor</tspan><tspan x="618" y="3209.5">complex</tspan></text></g>
<g id="n_psd" class="n"><rect x="661" y="3160" width="66" height="60" rx="6"/><text class="a" x="694"><tspan x="694" y="3179">post-</tspan><tspan x="694" y="3195">synaptic</tspan><tspan x="694" y="3211">density</tspan></text></g>
<g id="n_orc" class="n"><rect x="733" y="3160" width="83" height="60" rx="6"/><text class="a" x="774.5"><tspan x="774.5" y="3179">other</tspan><tspan x="774.5" y="3195">receptor</tspan><tspan x="774.5" y="3211">complexes</tspan></text></g>
<g id="n_ncode" class="n"><rect x="364" y="3218" width="53" height="54" rx="6"/><text x="390.5"><tspan x="390.5" y="3234.5">the</tspan><tspan x="390.5" y="3249">neural</tspan><tspan x="390.5" y="3263.5">code</tspan></text></g>
<g id="n_nmda" class="n"><rect x="430" y="3229" width="53" height="25" rx="6"/><text x="456.5" y="3245.5">NMDA</text></g>
<g id="n_ribo" class="n"><rect x="1103" y="3230" width="106" height="25" rx="6"/><text x="1156" y="3246.5">ribonucleotides</text></g>
<g id="n_3let" class="n"><rect x="1126" y="3308" width="60" height="40" rx="6"/><text x="1156"><tspan x="1156" y="3324.75">3-letter</tspan><tspan x="1156" y="3339.25">codes</tspan></text></g>
<g id="n_ampa" class="n"><rect x="630" y="3335" width="49" height="25" rx="6"/><text x="654.5" y="3351.5">AMPA</text></g>
<g id="n_amino" class="n"><rect x="1115" y="3417" width="81" height="25" rx="6"/><text x="1155.5" y="3433.5">amino acid</text></g>
<g id="n_glut" class="n"><rect x="659" y="3420" width="76" height="30" rx="6"/><text class="a" x="697" y="3440">glutamate</text></g>
<g id="n_biog" class="n"><rect x="499" y="3425" width="68" height="42" rx="6"/><text class="a" x="533"><tspan x="533" y="3443">biogenic</tspan><tspan x="533" y="3459">amines</tspan></text></g>
<g id="n_dopa" class="n"><rect x="639" y="3500" width="76" height="29" rx="6"/><text class="a" x="677" y="3519.5">dopamine</text></g>
<g id="n_gaba" class="n"><rect x="789" y="3525" width="54" height="27" rx="6"/><text class="a" x="816" y="3543.5">GABA</text></g>
<g id="n_protein" class="n"><rect x="1127" y="3522" width="58" height="27" rx="6"/><text x="1156" y="3539.5">protein</text></g>
<g id="n_gabas" class="n"><rect x="679" y="3581" width="59" height="41" rx="6"/><text x="708.5"><tspan x="708.5" y="3598.25">GABA</tspan><tspan x="708.5" y="3612.75">system</tspan></text></g>
<g id="n_gabar" class="n"><rect x="780" y="3587" width="73" height="40" rx="6"/><text x="816.5"><tspan x="816.5" y="3603.75">GABA</tspan><tspan x="816.5" y="3618.25">receptors</tspan></text></g>
<g id="n_ruta" class="n"><rect x="1383" y="3588" width="70" height="26" rx="6"/><text x="1418" y="3605">rutabaga</text></g>
<g id="n_psd95" class="n"><rect x="1401" y="3621" width="54" height="24" rx="6"/><text x="1428" y="3637">PSD95</text></g>
<g id="n_gfl" class="n"><rect x="1549" y="3631" width="72" height="42" rx="6"/><text x="1585"><tspan x="1585" y="3648.75">genes for</tspan><tspan x="1585" y="3663.25">learning</tspan></text></g>
<g id="n_d1" class="n"><rect x="522" y="3637" width="72" height="43" rx="6"/><text x="558"><tspan x="558" y="3655.25">d1</tspan><tspan x="558" y="3669.75">receptors</tspan></text></g>
<g id="n_sap" class="n"><rect x="1392" y="3651" width="63" height="25" rx="6"/><text x="1423.5" y="3667.5">SAP102</text></g>
<g id="n_bip" class="n"><rect x="666" y="3667" width="87" height="56" rx="6"/><text x="709.5"><tspan x="709.5" y="3684.5">biochemical</tspan><tspan x="709.5" y="3699">information</tspan><tspan x="709.5" y="3713.5">processing</tspan></text></g>
<g id="n_struct2" class="n"><rect x="957" y="3671" width="69" height="25" rx="6"/><text x="991.5" y="3687.5">structure</text></g>
<g id="n_inter" class="n"><rect x="1054" y="3671" width="86" height="25" rx="6"/><text x="1097" y="3687.5">interactions</text></g>
<g id="n_creb" class="n"><rect x="1407" y="3682" width="48" height="25" rx="6"/><text x="1431" y="3698.5">CREB</text></g>
<g id="n_ptm" class="n"><rect x="725" y="3780" width="127" height="38" rx="6"/><text x="788.5"><tspan x="788.5" y="3795.75">post-translational</tspan><tspan x="788.5" y="3810.25">modification</tspan></text></g>
<g id="n_pcx" class="n"><rect x="922" y="3773" width="82" height="45" rx="6"/><text class="a" x="963"><tspan x="963" y="3792.5">protein</tspan><tspan x="963" y="3808.5">complexes</tspan></text></g>
<g id="n_path" class="n"><rect x="1042" y="3782" width="72" height="26" rx="6"/><text x="1078" y="3799">pathways</text></g>
<g id="n_dom" class="n"><rect x="836" y="3831" width="66" height="24" rx="6"/><text x="869" y="3847">domains</text></g>
<g id="n_ppi" class="n"><rect x="918" y="3908" width="86" height="55" rx="6"/><text x="961"><tspan x="961" y="3925">protein-</tspan><tspan x="961" y="3939.5">protein</tspan><tspan x="961" y="3954">interactions</tspan></text></g>
<g id="n_enz" class="n"><rect x="1020" y="3916" width="75" height="27" rx="6"/><text x="1057.5" y="3933.5">enzymatic</text></g>
<g id="n_pphos" class="n"><rect x="910" y="3987" width="112" height="41" rx="6"/><text x="966"><tspan x="966" y="4004.25">protein</tspan><tspan x="966" y="4018.75">phosphorylation</tspan></text></g>
<g id="n_cnuc" class="n"><rect x="1042" y="3986" width="138" height="39" rx="6"/><text x="1111"><tspan x="1111" y="4002.25">cyclic nucleotides</tspan><tspan x="1111" y="4016.75">and small molecules</tspan></text></g>
<g id="n_camp" class="n"><rect x="1072" y="4066" width="78" height="26" rx="6"/><text x="1111" y="4083">cyclic AMP</text></g>
</svg>
